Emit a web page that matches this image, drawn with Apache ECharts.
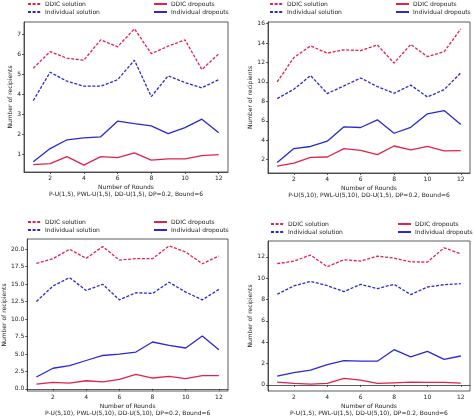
<!DOCTYPE html>
<html>
<head>
<meta charset="utf-8">
<script src="https://cdn.jsdelivr.net/npm/echarts@6/dist/echarts.min.js"></script>
<style>
  html, body { margin: 0; padding: 0; background: #fff; }
  #chart { width: 474px; height: 418px; }
</style>
</head>
<body>
<div id="chart"></div>
<script>
// rounds on the x axis
const rounds = [1, 2, 3, 4, 5, 6, 7, 8, 9, 10, 11, 12];
const xTicks = [2, 4, 6, 8, 10, 12];

// panel 1: P-U(1,5), PWL-U(1,5), DD-U(1,5)
const p1DdicSolution = [5.30, 6.13, 5.80, 5.70, 6.72, 6.37, 7.27, 6.03, 6.40, 6.72, 5.23, 6.02];
const p1IndivSolution = [3.68, 5.10, 4.65, 4.40, 4.40, 4.72, 5.70, 3.88, 4.92, 4.58, 4.32, 4.73];
const p1DdicDropouts = [0.48, 0.53, 0.88, 0.45, 0.88, 0.83, 1.07, 0.70, 0.77, 0.77, 0.93, 0.98];
const p1IndivDropouts = [0.62, 1.28, 1.72, 1.82, 1.87, 2.65, 2.53, 2.42, 2.03, 2.33, 2.75, 2.07];
const p1YTicks = [1, 2, 3, 4, 5, 6, 7];

// panel 2: P-U(5,10), PWL-U(5,10), DD-U(1,5)
const p2DdicSolution = [10.0, 12.5, 13.7, 12.95, 13.3, 13.22, 13.8, 11.93, 13.85, 12.6, 13.1, 15.45];
const p2IndivSolution = [8.28, 9.24, 10.65, 8.8, 9.59, 10.4, 9.52, 8.83, 9.67, 8.45, 9.2, 10.93];
const p2DdicDropouts = [1.34, 1.66, 2.25, 2.28, 3.14, 2.95, 2.52, 3.41, 3.0, 3.36, 2.9, 2.93];
const p2IndivDropouts = [1.72, 3.15, 3.36, 3.9, 5.38, 5.31, 6.1, 4.72, 5.33, 6.72, 7.05, 5.62];
const p2YTicks = [2, 4, 6, 8, 10, 12, 14, 16];

// panel 3: P-U(5,10), PWL-U(5,10), DD-U(5,10)
const p3DdicSolution = [17.97, 18.65, 20.0, 18.7, 20.39, 18.45, 18.65, 18.65, 20.48, 19.61, 17.92, 19.03];
const p3IndivSolution = [12.51, 14.73, 15.94, 14.1, 14.98, 12.75, 13.77, 13.67, 15.27, 13.86, 12.75, 14.25];
const p3DdicDropouts = [0.68, 0.92, 0.82, 1.16, 1.01, 1.35, 2.08, 1.55, 1.79, 1.45, 1.88, 1.88];
const p3IndivDropouts = [1.69, 2.95, 3.33, 4.06, 4.78, 4.98, 5.27, 6.71, 6.23, 5.85, 7.58, 5.6];
const p3YTicks = [0, 2.5, 5, 7.5, 10, 12.5, 15, 17.5, 20];

// panel 4: P-U(1,5), PWL-U(1,5), DD-U(5,10)
const p4DdicSolution = [11.35, 11.6, 12.16, 11.07, 11.72, 11.6, 12.06, 11.88, 11.53, 11.5, 12.84, 12.28];
const p4IndivSolution = [8.49, 9.27, 9.7, 9.3, 8.74, 9.42, 9.02, 9.42, 8.46, 9.17, 9.39, 9.48];
const p4DdicDropouts = [0.26, 0.14, 0.07, 0.14, 0.62, 0.45, 0.14, 0.2, 0.26, 0.23, 0.23, 0.17];
const p4IndivDropouts = [0.82, 1.16, 1.38, 1.91, 2.28, 2.22, 2.22, 3.3, 2.62, 3.15, 2.4, 2.71];
const p4YTicks = [0, 2, 4, 6, 8, 10, 12];

const subtitles = [
    'P-U(1,5), PWL-U(1,5), DD-U(1,5), DP=0.2, Bound=6',
    'P-U(5,10), PWL-U(5,10), DD-U(1,5), DP=0.2, Bound=6',
    'P-U(5,10), PWL-U(5,10), DD-U(5,10), DP=0.2, Bound=6',
    'P-U(1,5), PWL-U(1,5), DD-U(5,10), DP=0.2, Bound=6'
];

const RED = '#e0224f';
const BLUE = '#2a2ad2';
const FONT = 'DejaVu Sans';

let panels = [
    { sol: p1DdicSolution, isol: p1IndivSolution, drop: p1DdicDropouts, idrop: p1IndivDropouts, ticks: p1YTicks, dec: 0,
      grid: { left: 24, top: 22, width: 204, height: 150 }, yGap: 9, legendTop: 1, legL: 27, legR: 153 },
    { sol: p2DdicSolution, isol: p2IndivSolution, drop: p2DdicDropouts, idrop: p2IndivDropouts, ticks: p2YTicks, dec: 0,
      grid: { left: 268, top: 22, width: 202, height: 151 }, yGap: 13, legendTop: 1, legL: 269, legR: 395 },
    { sol: p3DdicSolution, isol: p3IndivSolution, drop: p3DdicDropouts, idrop: p3IndivDropouts, ticks: p3YTicks, dec: 1,
      grid: { left: 24, top: 239, width: 204, height: 152 }, yGap: 17, legendTop: 219, legL: 27, legR: 153 },
    { sol: p4DdicSolution, isol: p4IndivSolution, drop: p4DdicDropouts, idrop: p4IndivDropouts, ticks: p4YTicks, dec: 0,
      grid: { left: 268, top: 241, width: 202, height: 151 }, yGap: 14, legendTop: 221, legL: 270, legR: 397 }
];

// matplotlib style 5% margin
function yRange(p){
    let all = p.sol.concat(p.isol, p.drop, p.idrop);
    let lo = Math.min.apply(null, all), hi = Math.max.apply(null, all);
    let pad = (hi - lo) * 0.05;
    return [lo - pad, hi + pad];
}

function pairs(vals){
    return rounds.map((r, i) => [r, vals[i]]);
}

let grids = [], xAxes = [], yAxes = [], series = [], legends = [];
const axisText = { color: '#222', fontSize: 6, fontFamily: FONT };

panels.forEach((p, i) => {
    grids.push(Object.assign({ show: true, borderColor: '#333', borderWidth: 0.8, backgroundColor: '#fff' }, p.grid));

    xAxes.push({
        type: 'value', gridIndex: i, min: 0.45, max: 12.55,
        axisLine: { show: true, lineStyle: { color: '#333', width: 0.8 } },
        axisTick: { show: true, length: 2, customValues: xTicks, lineStyle: { color: '#333', width: 0.8 } },
        axisLabel: Object.assign({ customValues: xTicks, margin: 3 }, axisText),
        splitLine: { show: false },
        name: 'Number of Rounds\n' + subtitles[i],
        nameLocation: 'middle', nameGap: 12,
        nameTextStyle: Object.assign({ lineHeight: 7, verticalAlign: 'top' }, axisText)
    });

    let r = yRange(p);
    yAxes.push({
        type: 'value', gridIndex: i, min: r[0], max: r[1],
        axisLine: { show: true, lineStyle: { color: '#333', width: 0.8 } },
        axisTick: { show: true, length: 2, customValues: p.ticks, lineStyle: { color: '#333', width: 0.8 } },
        axisLabel: Object.assign({ customValues: p.ticks, margin: 3,
            formatter: v => v.toFixed(p.dec) }, axisText),
        splitLine: { show: false },
        name: 'Number of recipients',
        nameLocation: 'middle', nameGap: p.yGap,
        nameTextStyle: axisText
    });

    let mk = (name, vals, color, dashed) => ({
        name: name, type: 'line', xAxisIndex: i, yAxisIndex: i,
        data: pairs(vals), symbol: 'none', animation: false,
        lineStyle: { color: color, width: 1.3, type: dashed ? [3, 1.6] : 'solid' },
        itemStyle: { color: color }
    });
    series.push(mk('DDIC solution', p.sol, RED, true));
    series.push(mk('Individual solution', p.isol, BLUE, true));
    series.push(mk('DDIC dropouts', p.drop, RED, false));
    series.push(mk('Individual dropouts', p.idrop, BLUE, false));

    let leg = (left, names) => ({
        orient: 'vertical', left: left, top: p.legendTop, padding: 0,
        itemWidth: 13, itemHeight: 6, itemGap: 2,
        data: names, selectedMode: false,
        itemStyle: { opacity: 0 },
        textStyle: { color: '#222', fontSize: 6, fontFamily: FONT, padding: [0, 0, 0, -1] }
    });
    legends.push(leg(p.legL, ['DDIC solution', 'Individual solution']));
    legends.push(leg(p.legR, ['DDIC dropouts', 'Individual dropouts']));
});

let chart = echarts.init(document.getElementById('chart'), null, { renderer: 'canvas' });
chart.setOption({
    backgroundColor: '#fff',
    animation: false,
    textStyle: { fontFamily: FONT },
    grid: grids,
    xAxis: xAxes,
    yAxis: yAxes,
    legend: legends,
    series: series
});
</script>
</body>
</html>
